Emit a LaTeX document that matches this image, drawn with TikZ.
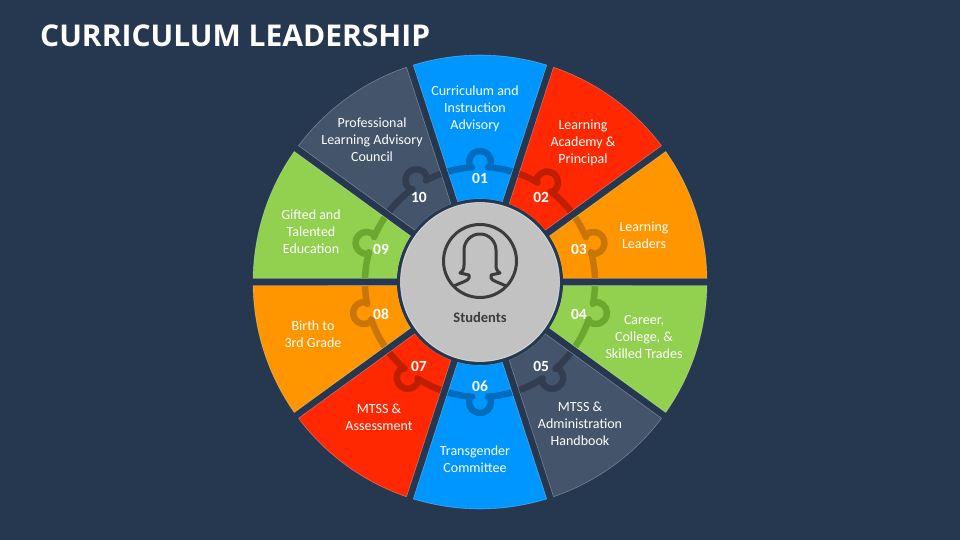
\documentclass[tikz,border=0pt]{standalone}
\usepackage{fontspec}
\setmainfont{Carlito}
\newfontfamily\titlefont{Open Sans}
\definecolor{bg}{RGB}{37,56,80}
\definecolor{cblue}{RGB}{0,150,255}
\definecolor{dblue}{RGB}{0,108,190}
\definecolor{cred}{RGB}{255,40,0}
\definecolor{dred}{RGB}{192,30,0}
\definecolor{corange}{RGB}{255,150,0}
\definecolor{dorange}{RGB}{200,118,10}
\definecolor{cgreen}{RGB}{146,208,80}
\definecolor{dgreen}{RGB}{108,168,48}
\definecolor{cslate}{RGB}{68,84,106}
\definecolor{dslate}{RGB}{50,62,80}
\definecolor{cgray}{RGB}{194,194,194}
\definecolor{cgraylight}{RGB}{210,210,210}
\definecolor{icon}{RGB}{60,60,60}
\tikzset{
  lbl/.style={text=white, align=center, inner sep=0, font=\fontsize{14}{17}\selectfont},
  numlbl/.style={text=white, inner sep=0, font=\bfseries\fontsize{15.5}{17}\selectfont},
  ringline/.style={line width=6.5, line cap=butt, line join=round},
  segedge/.style={draw=white, draw opacity=0.3, line width=0.6},
}
\begin{document}
\begin{tikzpicture}[x=1pt,y=1pt]
\fill[bg] (0,0) rectangle (960,540);
\useasboundingbox (0,0) rectangle (960,540);

\node[anchor=base west, inner sep=0, text=white, font=\titlefont\bfseries\fontsize{30}{36}\selectfont] (title) at (40,493.5) {CURRICULUM LEADERSHIP};

\begin{scope}[shift={(480,258)}]
\foreach \m/\c/\d/\k/\t [count=\i] in {90/cblue/dblue/90/01, 54/cred/dred/56/02, 18/corange/dorange/19/03, -18/cgreen/dgreen/-15/04, -54/cslate/dslate/-53/05, -90/cblue/dblue/-90/06, -126/cred/dred/-127/07, -162/corange/dorange/-165/08, 162/cgreen/dgreen/161/09, 126/cslate/dslate/122/10}{
  \pgfmathsetmacro\oa{\m-18+0.9}
  \pgfmathsetmacro\ob{\m+18-0.9}
  \pgfmathsetmacro\ia{\m-18+2.45}
  \pgfmathsetmacro\ib{\m+18-2.45}
  \pgfmathsetmacro\ra{\m-21-\k}
  \pgfmathsetmacro\rb{\m+21-\k}
  \begin{scope}
    \clip (\oa:227) arc[start angle=\oa, end angle=\ob, radius=227] -- (\ib:83) arc[start angle=\ib, end angle=\ia, radius=83] -- cycle;
    \fill[\c] (0,0) circle (240);
    \begin{scope}[rotate=\k]
      \draw[ringline, \d] (\ra:115) arc[start angle=\ra, end angle=-4, radius=115]
        -- (115.35,-9.97)
        arc[start angle=-115, end angle=115, radius=11]
        -- (4:115)
        arc[start angle=4, end angle=\rb, radius=115];
    \end{scope}
  \end{scope}
  \path[segedge] (\oa:227) arc[start angle=\oa, end angle=\ob, radius=227] -- (\ib:83) arc[start angle=\ib, end angle=\ia, radius=83] -- cycle;
  \node[numlbl] (n\i) at (\m:104) {\t};
}
\end{scope}

% outer labels
\node[lbl] (l01) at (475,431) {Curriculum and\\Instruction\\Advisory};
\node[lbl] (l02) at (583,396.7) {Learning\\Academy \&\\Principal};
\node[lbl] (l03) at (644,305) {Learning\\Leaders};
\node[lbl] (l04) at (644,203.3) {Career,\\College, \&\\Skilled Trades};
\node[lbl] (l05) at (580,116) {MTSS \&\\Administration\\Handbook};
\node[lbl] (l06) at (475,81.3) {Transgender\\Committee};
\node[lbl] (l07) at (379,123) {MTSS \&\\Assessment};
\node[lbl] (l08) at (313,205.5) {Birth to\\3rd Grade};
\node[lbl] (l09) at (311,308) {Gifted and\\Talented\\Education};
\node[lbl] (l10) at (372,400) {Professional\\Learning Advisory\\Council};

% hub
\fill[bg] (480,258) circle (83);
\node[circle, inner sep=0, minimum size=159, fill=cgray, draw=white, draw opacity=0.6, line width=0.8,
  path picture={\fill[cgraylight] (395,213) .. controls (440,216) and (520,216) .. (565,213) -- (565,170) -- (395,170) -- cycle;}] (hub) at (480,258) {};
\node[circle, inner sep=0, minimum size=73, draw=icon, line width=3] (person) at (480,279) {};
\draw[icon, line width=3, line join=round, shift={(480,279)}]
  (-26,-25) .. controls (-18,-21) and (-12,-20) .. (-11,-17) -- (-11,-14) -- (-20,-12)
  .. controls (-17,-10) and (-16,-8) .. (-16,-4) -- (-16,11)
  arc[start angle=180, end angle=0, radius=16] -- (16,-4)
  .. controls (16,-8) and (17,-10) .. (20,-12) -- (11,-14) -- (11,-17)
  .. controls (12,-20) and (18,-21) .. (26,-25);
\node[inner sep=0, text=icon, font=\bfseries\fontsize{14.5}{17}\selectfont] (students) at (480,222.5) {Students};
\end{tikzpicture}
\end{document}
